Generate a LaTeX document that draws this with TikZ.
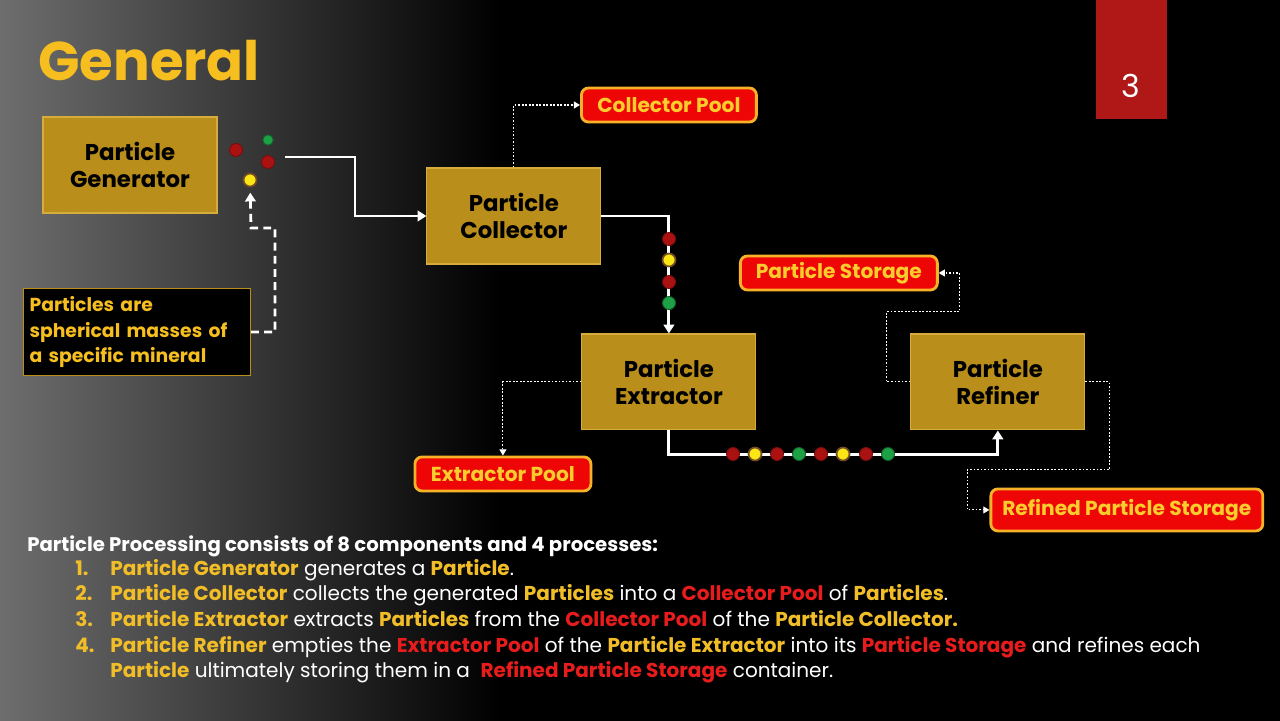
\documentclass[tikz,border=0pt]{standalone}
\usepackage{fontspec}
\setmainfont{Poppins}
\usetikzlibrary{positioning,arrows.meta}
\definecolor{bgleft}{RGB}{112,112,112}
\definecolor{gold}{RGB}{185,142,27}
\definecolor{goldline}{RGB}{214,172,60}
\definecolor{titleyellow}{RGB}{246,190,30}
\definecolor{poolred}{RGB}{238,6,6}
\definecolor{poolline}{RGB}{247,178,40}
\definecolor{poolyellow}{RGB}{250,205,45}
\definecolor{txtyellow}{RGB}{242,190,40}
\definecolor{txtred}{RGB}{232,28,28}
\definecolor{tabred}{RGB}{176,24,24}
\definecolor{dotred}{RGB}{170,18,18}
\definecolor{dotyellow}{RGB}{250,230,20}
\definecolor{dotgreen}{RGB}{30,160,70}
\newcommand\ylw[1]{{\bfseries\color{txtyellow}#1}}
\newcommand\rdw[1]{{\bfseries\color{txtred}#1}}
\begin{document}
\begin{tikzpicture}[x=0.02cm,y=-0.02cm,on grid,
  main/.style={draw=goldline,fill=gold,line width=0.6pt,minimum width=3.48cm,minimum height=1.92cm,align=center,text=black,font=\fontsize{13}{15.5}\selectfont\bfseries},
  pool/.style={draw=poolline,fill=poolred,line width=1.6pt,rounded corners=4pt,minimum height=0.68cm,text=poolyellow,font=\fontsize{11.5}{13}\selectfont\bfseries},
  note/.style={draw=gold,fill=black,line width=0.6pt,text width=4.3cm,inner xsep=0.12cm,minimum height=1.74cm,align=left,text=titleyellow,font=\fontsize{10.7}{14.5}\selectfont\bfseries},
  flow/.style={draw=white,line width=1.6pt,-{Triangle[length=5pt,width=6pt]}},
  pipe/.style={draw=white,line width=0.6pt,dash pattern=on 1pt off 1pt,-{Triangle[length=3.5pt,width=4pt]}},
  hint/.style={draw=white,line width=1.6pt,dash pattern=on 4.5pt off 3pt,-{Triangle[length=5pt,width=6pt]}},
  dot/.style={circle,inner sep=0pt,minimum size=0.26cm,line width=0.5pt},
  rdot/.style={dot,fill=dotred,draw=dotred!70!black},
  ydot/.style={dot,fill=dotyellow,draw=brown!60!black,line width=1pt},
  gdot/.style={dot,fill=dotgreen,draw=dotgreen!60!black},
  line/.style={anchor=base west,inner sep=0pt,text=white,font=\fontsize{11.4}{13}\selectfont}]
\useasboundingbox (0,0) rectangle (1280,720);
\fill[black] (-10,-10) rectangle (1290,730);
\shade[left color=bgleft,right color=black] (-10,-10) rectangle (500,730);
\fill[tabred] (1096,-10) rectangle (1167,119);
\node[text=white,font=\fontsize{18}{20}\selectfont] (page) at (1131,86) {3};
\node[anchor=base west,inner sep=0pt,text=titleyellow,font=\fontsize{31}{36}\selectfont\bfseries] (title) at (38,80) {General};

\node[main] (gen) at (130,165) {Particle\\Generator};
\node[main] (col) [below right=1.02cm and 7.68cm of gen] {Particle\\Collector};
\node[main] (ext) [below right=3.32cm and 3.10cm of col] {Particle\\Extractor};
\node[main] (ref) [right=6.58cm of ext] {Particle\\Refiner};
\node[pool,minimum width=3.5cm] (colpool) [above right=2.22cm and 3.10cm of col] {Collector Pool};
\node[pool,minimum width=3.52cm] (extpool) [below left=1.84cm and 3.32cm of ext] {Extractor Pool};
\node[pool,minimum width=3.94cm] (store) [above left=2.18cm and 3.18cm of ref] {Particle Storage};
\node[pool,minimum width=5.44cm,minimum height=0.84cm] (refstore) [below right=2.56cm and 2.58cm of ref] {Refined Particle Storage};
\node[note] (note) [below right=3.34cm and 0.14cm of gen] {Particles are\\spherical masses of\\a specific mineral};

\coordinate (genout) at (285,157);
\draw[flow] (genout) -- ++(70,0) |- (col);
\draw[flow] (col) -| (ext);
\draw[flow] (ext.south) -- ++(0,24) -| (ref);
\draw[pipe] (col) |- (colpool);
\draw[pipe] (ext) -| (extpool);
\draw[pipe] (ref.west) -- ++(-24,0) -- ++(0,-70) -- ++(73,0) |- (store);
\draw[pipe] (ref.east) -- ++(24,0) |- ++(-142,88) |- (refstore);

\node[rdot] (gd1) at (236,150) {};
\node[gdot,minimum size=0.21cm] (gd2) at (268,140) {};
\node[rdot] (gd3) at (268,162) {};
\node[ydot] (gd4) at (250,180) {};
\draw[hint,shorten >=3pt] (note.east) -- ++(24,0) |- ++(-24,-104) -- (gd4);

\node[rdot] (cd1) at (669,239) {};
\node[ydot] (cd2) at (669,260) {};
\node[rdot] (cd3) at (669,282) {};
\node[gdot] (cd4) at (669,303) {};

\node[rdot] (bd1) at (733,454) {};
\node[ydot] (bd2) at (755,454) {};
\node[rdot] (bd3) at (777,454) {};
\node[gdot] (bd4) at (799,454) {};
\node[rdot] (bd5) at (821,454) {};
\node[ydot] (bd6) at (843,454) {};
\node[rdot] (bd7) at (866,454) {};
\node[gdot] (bd8) at (888,454) {};

\node[line,font=\fontsize{11.2}{13}\selectfont\bfseries] (intro) at (27,551) {Particle Processing consists of 8 components and 4 processes:};
\node[line,text=txtyellow,font=\fontsize{11.4}{13}\selectfont\bfseries] (num1) at (75,575) {1.};
\node[line,text=txtyellow,font=\fontsize{11.4}{13}\selectfont\bfseries] (num2) at (75,600) {2.};
\node[line,text=txtyellow,font=\fontsize{11.4}{13}\selectfont\bfseries] (num3) at (75,626) {3.};
\node[line,text=txtyellow,font=\fontsize{11.4}{13}\selectfont\bfseries] (num4) at (75,652) {4.};
\node[line] (item1) at (110,575) {\ylw{Particle Generator} generates a \ylw{Particle}.};
\node[line] (item2) at (110,600) {\ylw{Particle Collector} collects the generated \ylw{Particles} into a \rdw{Collector Pool} of \ylw{Particles}.};
\node[line] (item3) at (110,626) {\ylw{Particle Extractor} extracts \ylw{Particles} from the \rdw{Collector Pool} of the \ylw{Particle Collector.}};
\node[line] (item4) at (110,652) {\ylw{Particle Refiner} empties the \rdw{Extractor Pool} of the \ylw{Particle Extractor} into its \rdw{Particle Storage} and refines each};
\node[line] (item4b) at (110,677) {\ylw{Particle} ultimately storing them in a \ \rdw{Refined Particle Storage} container.};
\end{tikzpicture}
\end{document}
